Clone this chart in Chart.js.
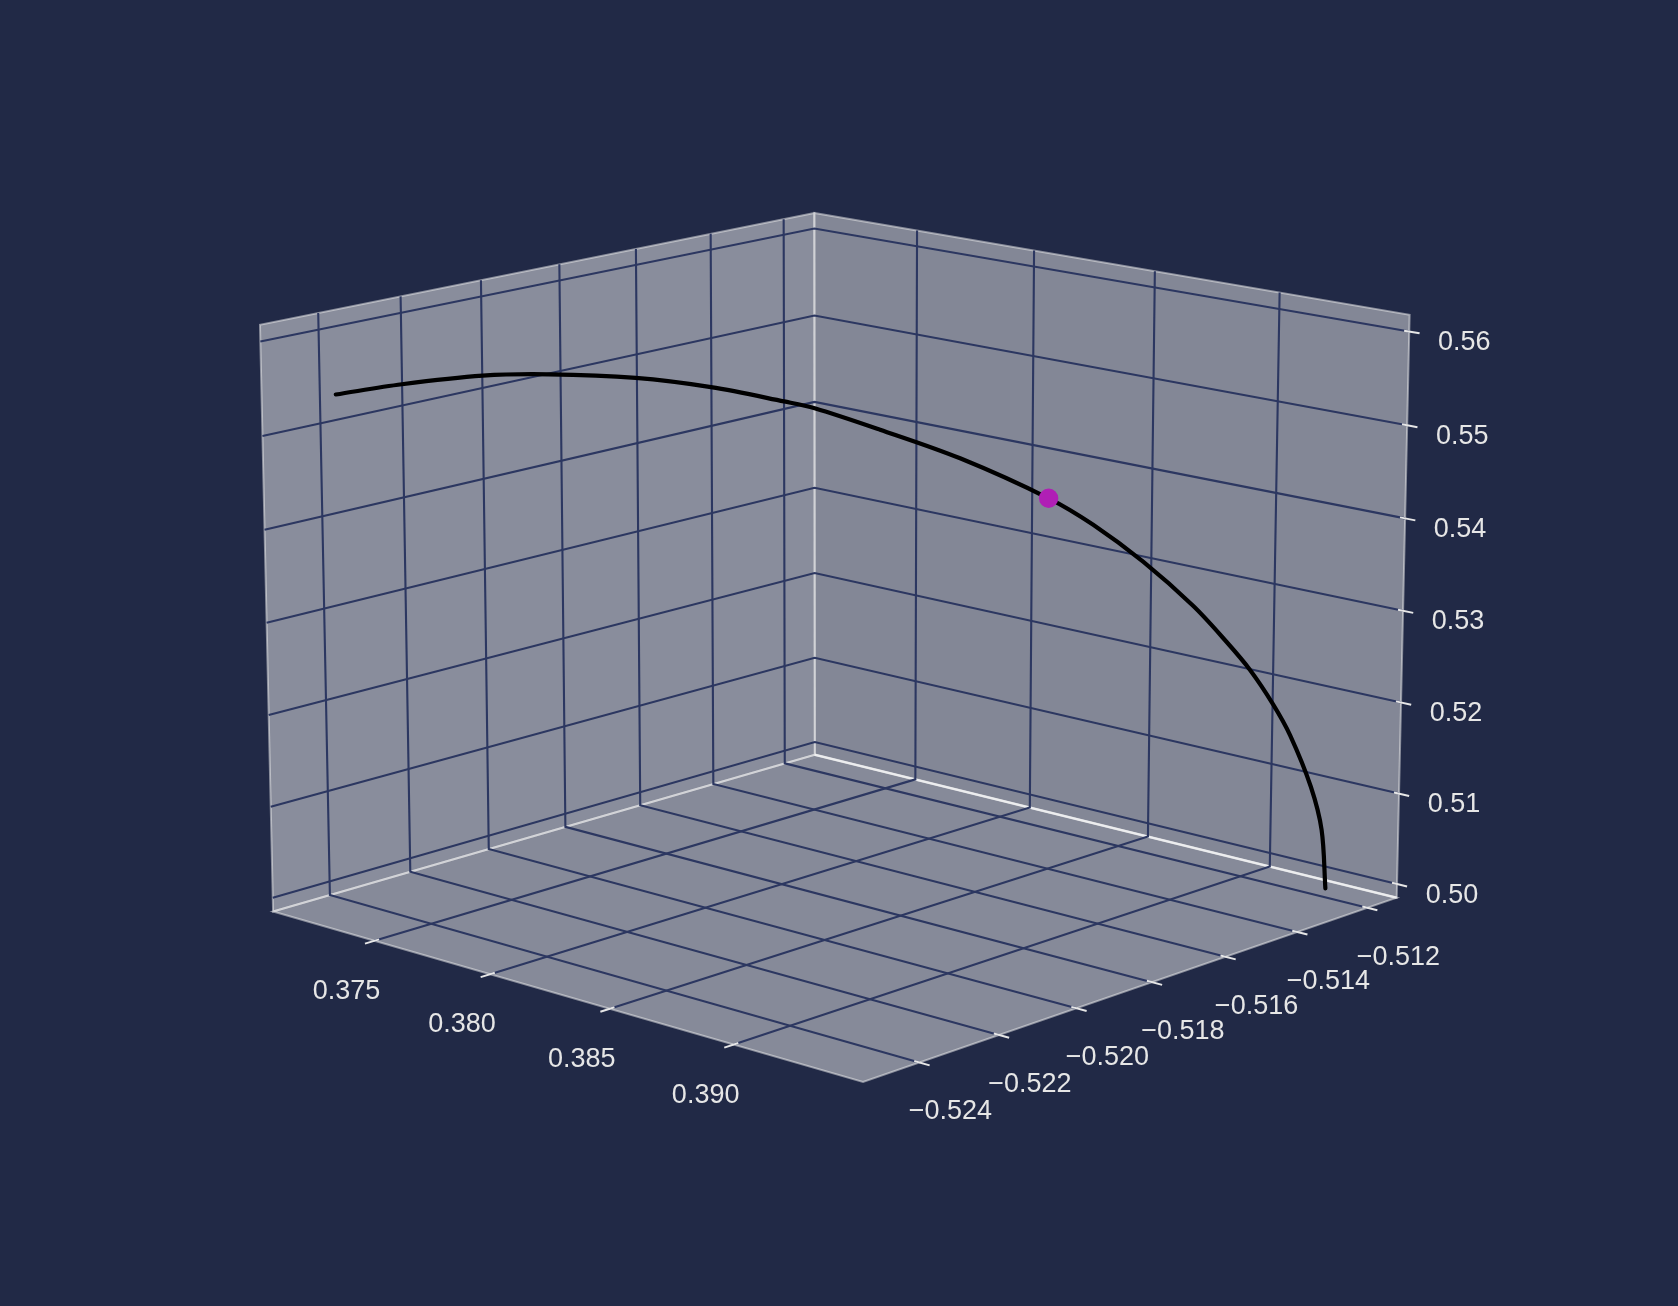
<!DOCTYPE html><html><head><meta charset="utf-8"><style>html,body{margin:0;background:#212946}canvas{display:block}</style>
<script src="https://cdn.jsdelivr.net/npm/chart.js@4"></script></head><body><canvas id="c" width="1678" height="1306"></canvas>
<script>
const xTicks=[0.375,0.380,0.385,0.390],yTicks=[-0.524,-0.522,-0.520,-0.518,-0.516,-0.514,-0.512],zTicks=[0.50,0.51,0.52,0.53,0.54,0.55,0.56];
const xTickLabels=['0.375','0.380','0.385','0.390'],yTickLabels=['−0.524','−0.522','−0.520','−0.518','−0.516','−0.514','−0.512'],zTickLabels=['0.50','0.51','0.52','0.53','0.54','0.55','0.56'];
const xLim=[0.37097,0.39455],yLim=[-0.52510,-0.51143],zLim=[0.49975,0.56051];
const curveX=[0.37206,0.37347,0.37519,0.37660,0.37846,0.38007,0.38163,0.38228,0.38369,0.38541,0.38732,0.38829,0.38938,0.39048,0.39121,0.39173,0.39225,0.39263,0.39311,0.39336,0.39347];
const curveY=[-0.52447,-0.52365,-0.52265,-0.52184,-0.52076,-0.51983,-0.51892,-0.51854,-0.51773,-0.51673,-0.51562,-0.51506,-0.51443,-0.51379,-0.51336,-0.51306,-0.51277,-0.51254,-0.51227,-0.51212,-0.51206];
const curveZ=[0.55433,0.55535,0.55618,0.55627,0.55580,0.55475,0.55316,0.55241,0.55006,0.54692,0.54254,0.53965,0.53561,0.53075,0.52680,0.52373,0.51999,0.51654,0.51087,0.50608,0.49962];
const markerX=[0.38732],markerY=[-0.51562],markerZ=[0.54254];
const ELEV=14.24,AZIM=-47.44,DIST=10,SCALE=6486.2,OX=836.9,OY=615.5;
const boxA=[4,4,3].map(v=>v*1.8294640721620434*25/24/Math.sqrt(41)),R=boxA.map(b=>b/2);
const cross=(a,b)=>[a[1]*b[2]-a[2]*b[1],a[2]*b[0]-a[0]*b[2],a[0]*b[1]-a[1]*b[0]],dot=(a,b)=>a[0]*b[0]+a[1]*b[1]+a[2]*b[2],nrm=a=>{const l=Math.hypot(...a);return a.map(v=>v/l)};
const el=ELEV*Math.PI/180,az=AZIM*Math.PI/180,W=[Math.cos(el)*Math.cos(az),Math.cos(el)*Math.sin(az),Math.sin(el)],EYE=R.map((r,i)=>r+DIST*W[i]),U=nrm(cross([0,0,1],W)),V=cross(W,U);
function projN(X,Y,Z){const p=[X*boxA[0]-EYE[0],Y*boxA[1]-EYE[1],Z*boxA[2]-EYE[2]],d=-dot(p,W);return{x:OX+SCALE*dot(p,U)/d,y:OY-SCALE*dot(p,V)/d}}
const nx=v=>(v-xLim[0])/(xLim[1]-xLim[0]),ny=v=>(v-yLim[0])/(yLim[1]-yLim[0]),nz=v=>(v-zLim[0])/(zLim[1]-zLim[0]);
const L=-1/48,H=49/48,TO=0.2/12,TI=0.1/12;
const lineDs=(data,color,width,order,extra)=>Object.assign({data,showLine:true,borderColor:color,borderWidth:width,pointRadius:0,pointHoverRadius:0,order,clip:false,fill:false,tension:0},extra||{});
const GRID='#2c3761',TICK='#e6e6e6',ds=[];
for(const v of xTicks){const f=nx(v);ds.push(lineDs([projN(f,L,L),projN(f,H,L),projN(f,H,H)],GRID,2.1,5))}
for(const v of yTicks){const f=ny(v);ds.push(lineDs([projN(H,f,L),projN(L,f,L),projN(L,f,H)],GRID,2.1,5))}
for(const v of zTicks){const f=nz(v);ds.push(lineDs([projN(L,L,f),projN(L,H,f),projN(H,H,f)],GRID,2.1,5))}
for(const v of xTicks){const f=nx(v);ds.push(lineDs([projN(f,L+TI,L),projN(f,L-TO,L)],TICK,2,4))}
for(const v of yTicks){const f=ny(v);ds.push(lineDs([projN(H-TI,f,L),projN(H+TO,f,L)],TICK,2,4))}
for(const v of zTicks){const f=nz(v);ds.push(lineDs([projN(H-TI,H,f),projN(H+TO,H,f)],TICK,2,4))}
ds.push(lineDs(curveX.map((x,i)=>projN(nx(x),ny(curveY[i]),nz(curveZ[i]))),'#000000',4.2,2,{tension:0.33,capBezierPoints:false,borderCapStyle:'round',borderJoinStyle:'round'}));
ds.push({data:markerX.map((x,i)=>projN(nx(x),ny(markerY[i]),nz(markerZ[i]))),showLine:false,pointRadius:9.7,pointBackgroundColor:'#b01fb5',pointBorderWidth:0,order:1,clip:false});
const panes=[{c:[[L,L,L],[L,H,L],[L,H,H],[L,L,H]],f:'rgba(242,242,242,0.5)'},{c:[[L,H,L],[H,H,L],[H,H,H],[L,H,H]],f:'rgba(230,230,230,0.5)'},{c:[[L,L,L],[H,L,L],[H,H,L],[L,H,L]],f:'rgba(236,236,236,0.5)'}];
const panePlugin={id:'panes',beforeDatasetsDraw(ch){const {ctx,scales:{x,y}}=ch;ctx.save();const P=p=>{const q=projN(...p);return[x.getPixelForValue(q.x),y.getPixelForValue(q.y)]};
for(const pn of panes){ctx.beginPath();pn.c.forEach((p,i)=>{const q=P(p);i?ctx.lineTo(q[0],q[1]):ctx.moveTo(q[0],q[1])});ctx.closePath();ctx.fillStyle=pn.f;ctx.fill();ctx.strokeStyle='rgba(240,240,240,0.5)';ctx.lineWidth=2;ctx.lineJoin='miter';ctx.stroke()}
const a=P([L,H,L]),b=P([H,H,L]);ctx.beginPath();ctx.moveTo(a[0],a[1]);ctx.lineTo(b[0],b[1]);ctx.strokeStyle='rgba(255,255,255,0.6)';ctx.lineWidth=2.6;ctx.stroke();ctx.restore()}};
const labelPlugin={id:'labels',afterDatasetsDraw(ch){const {ctx,scales:{x,y}}=ch;ctx.save();ctx.font='27px "Liberation Sans"';ctx.fillStyle='#e6e6e6';ctx.textAlign='center';ctx.textBaseline='alphabetic';
const put=(t,q,dx,dy)=>ctx.fillText(t,x.getPixelForValue(q.x)+dx,y.getPixelForValue(q.y)+dy+9.5);
xTicks.forEach((v,i)=>put(xTickLabels[i],projN(nx(v),L,L),-28,48.5));
yTicks.forEach((v,i)=>put(yTickLabels[i],projN(H,ny(v),L),31,47.5));
zTicks.forEach((v,i)=>put(zTickLabels[i],projN(H,H,nz(v)),55,9));ctx.restore()}};
new Chart(document.getElementById('c'),{type:'scatter',data:{datasets:ds},plugins:[panePlugin,labelPlugin],options:{responsive:false,devicePixelRatio:1,animation:false,events:[],layout:{padding:0,autoPadding:false},plugins:{legend:{display:false},tooltip:{enabled:false}},scales:{x:{type:'linear',min:0,max:1678,display:false},y:{type:'linear',min:0,max:1306,reverse:true,display:false}}}});
</script></body></html>
